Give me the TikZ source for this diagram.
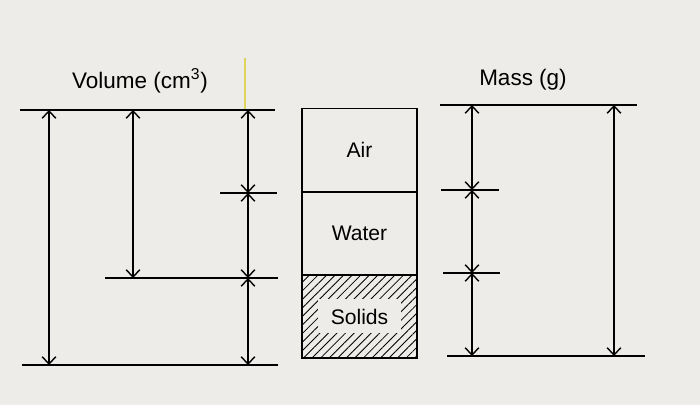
\documentclass[tikz,border=0pt]{standalone}
\usepackage{fontspec}
\setmainfont{Liberation Sans}
\usetikzlibrary{arrows.meta,patterns.meta}
\definecolor{paper}{RGB}{237,236,233}
\definecolor{marker}{RGB}{222,212,90}
\newcommand{\headfont}{\fontsize{16}{19}\selectfont}
\newcommand{\cellfont}{\fontsize{15}{18}\selectfont}
% a phase cell of the soil column
\newcommand{\soilcell}[3]{
	\node [draw, rectangle, minimum width=2.875cm, minimum height=2.08cm, #3] (#1) at (#2) {};}

\begin{document}
\begin{tikzpicture}[x=0.025cm,y=-0.025cm,line width=1pt,
	>={Straight Barb[length=1.8mm,width=3.4mm]}]
	\fill [paper] (0,0) rectangle (700,405);
	% titles
	\node [font=\headfont] (voltitle) at (140,81) {Volume (cm\textsuperscript{3})};
	\node [font=\headfont] (masstitle) at (523,80) {Mass (g)};
	% soil column
	\soilcell{air}{359.5,150}{}
	\soilcell{water}{359.5,233.5}{}
	\soilcell{solids}{359.5,316.5}{pattern={Lines[angle=45,distance=4.3pt,line width=0.6pt]}}
	\node [font=\cellfont] at (air) {Air};
	\node [font=\cellfont] at (water) {Water};
	\node [font=\cellfont, fill=paper, minimum width=2.05cm, minimum height=0.85cm] (solidslabel) at (solids) {Solids};
	% volume side
	\coordinate (vtl) at (20,110);   \coordinate (vtr) at (275,110);
	\coordinate (val) at (220,193);  \coordinate (var) at (277,193);
	\coordinate (vwl) at (105,278);  \coordinate (vwr) at (278,278);
	\coordinate (vbl) at (22,365);   \coordinate (vbr) at (278,365);
	\draw [marker, line width=0.8pt] (245,58) -- (245,109);
	\draw (vtl) -- (vtr);
	\draw (val) -- (var);
	\draw (vwl) -- (vwr);
	\draw (vbl) -- (vbr);
	\draw [<->] (49,110) -- (49,365);
	\draw [<->] (133,110) -- (133,278);
	\draw [<->] (248,110) -- (248,193);
	\draw [<->] (248,193) -- (248,278);
	\draw [<->] (248,278) -- (248,365);
	% mass side
	\coordinate (mtl) at (440,105);  \coordinate (mtr) at (637,105);
	\coordinate (mal) at (441,190);  \coordinate (mar) at (499,190);
	\coordinate (mwl) at (443,273);  \coordinate (mwr) at (500,273);
	\coordinate (mbl) at (447,356);  \coordinate (mbr) at (645,356);
	\draw (mtl) -- (mtr);
	\draw (mal) -- (mar);
	\draw (mwl) -- (mwr);
	\draw (mbl) -- (mbr);
	\draw [<->] (472,105) -- (472,190);
	\draw [<->] (472,190) -- (472,273);
	\draw [<->] (472,273) -- (472,356);
	\draw [<->] (614,105) -- (614,356);
\end{tikzpicture}
\end{document}
